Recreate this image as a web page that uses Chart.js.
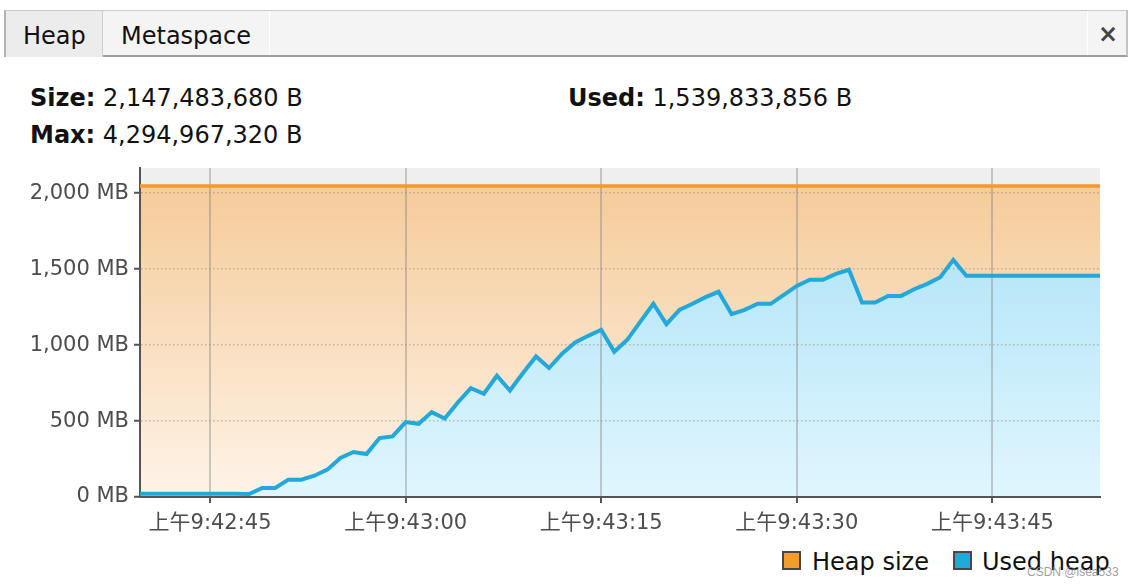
<!DOCTYPE html>
<html>
<head>
<meta charset="utf-8">
<script src="https://cdn.jsdelivr.net/npm/chart.js@4.4.1/dist/chart.umd.min.js"></script>
<style>
html,body{margin:0;padding:0;background:#fff;width:1138px;height:586px;overflow:hidden;
  font-family:'DejaVu Sans','Noto Sans CJK SC',sans-serif;color:#111;}
.abs{position:absolute;box-sizing:border-box;}
#tabbar{left:103px;top:10px;width:1025px;height:47px;background:#f4f4f4;border-top:1px solid #c9c9c9;border-bottom:2px solid #9e9e9e;border-right:2px solid #c4c4c4;}
#tabheap{left:4px;top:10px;width:99px;height:47px;background:#ececec;border-left:2px solid #b3b3b3;border-top:1px solid #c9c9c9;border-right:1px solid #cfcfcf;}
.sep{top:11px;width:1px;height:44px;background:#ffffff;}
.tabtxt{font-size:24px;line-height:28px;white-space:nowrap;}
.info{font-size:24px;line-height:28px;white-space:nowrap;}
.info b{font-weight:bold;}
#close{left:1098px;top:20px;font-size:24px;line-height:28px;color:#444;font-weight:bold;}
#chartwrap{left:0;top:150px;width:1138px;height:390px;}
.lgbox{width:19px;height:19px;border:2px solid #474747;}
.lgtxt{font-size:24px;line-height:28px;white-space:nowrap;color:#111;}
#wm{left:1027px;top:565px;font-family:'Liberation Sans',Arial,sans-serif;font-size:12px;line-height:14px;color:rgba(140,140,140,0.85);white-space:nowrap;}
</style>
</head>
<body>
<div id="tabbar" class="abs"></div>
<div id="tabheap" class="abs"></div>
<div class="abs sep" style="left:269px"></div>
<div class="abs sep" style="left:1087px"></div>
<div class="abs tabtxt" style="left:23px;top:22px">Heap</div>
<div class="abs tabtxt" style="left:121px;top:22px">Metaspace</div>
<div id="close" class="abs">×</div>

<div class="abs info" style="left:30px;top:84px"><b>Size:</b> 2,147,483,680 B</div>
<div class="abs info" style="left:30px;top:121px"><b>Max:</b> 4,294,967,320 B</div>
<div class="abs info" style="left:568px;top:84px"><b>Used:</b> 1,539,833,856 B</div>

<div id="chartwrap" class="abs"><canvas id="c" width="1138" height="390"></canvas></div>

<div class="abs lgbox" style="left:782px;top:551px;background:#f39c2c"></div>
<div class="abs lgtxt" style="left:812px;top:548px">Heap size</div>
<div class="abs lgbox" style="left:953px;top:551px;background:#1fa9dc"></div>
<div class="abs lgtxt" style="left:982px;top:548px">Used heap</div>
<div id="wm" class="abs">CSDN @isea533</div>

<script>
// ---- data (seconds after 9:42:00, MB) ----
const times = [39.63,41,42,43,44,45,46,47,48,49,50,51,52,53,54,55,56,57,58,59,
  60,61,62,63,64,65,66,67,68,69,70,71,72,73,74,75,76,77,78,79,
  80,81,82,83,84,85,86,87,88,89,90,91,92,93,94,95,96,97,98,99,
  100,101,102,103,104,105,106,107,108,109,110,111,112,113,114];
const usedHeap = [22,22,22,22,22,22,22,22,20,59,59,114,114,140,180,257,296,283,388,399,
  493,482,559,517,622,717,680,798,701,816,925,849,943,1017,1061,1101,956,1035,1155,1272,
  1138,1232,1272,1316,1351,1204,1232,1272,1272,1331,1390,1430,1430,1469,1496,1280,1280,1324,1324,1368,
  1403,1447,1561,1456,1456,1456,1456,1456,1456,1456,1456,1456,1456,1456,1456];
const heapSize = [2048,2048,2048,2048,2048,2048,2048,2048,2048,2048,2048,2048,2048,2048,2048,2048,2048,2048,2048,2048,
  2048,2048,2048,2048,2048,2048,2048,2048,2048,2048,2048,2048,2048,2048,2048,2048,2048,2048,2048,2048,
  2048,2048,2048,2048,2048,2048,2048,2048,2048,2048,2048,2048,2048,2048,2048,2048,2048,2048,2048,2048,
  2048,2048,2048,2048,2048,2048,2048,2048,2048,2048,2048,2048,2048,2048,2048];
const xTickValues = [45,60,75,90,105];
const xTickLabels = ['上午9:42:45','上午9:43:00','上午9:43:15','上午9:43:30','上午9:43:45'];
const yTickValues = [0,500,1000,1500,2000];
const yTickLabels = ['0 MB','500 MB','1,000 MB','1,500 MB','2,000 MB'];

const usedPts = times.map((t,i)=>({x:t,y:usedHeap[i]}));
const heapPts = times.map((t,i)=>({x:t,y:heapSize[i]}));

function grad(stops){
  return (ctx)=>{
    const chart = ctx.chart; const a = chart.chartArea;
    if(!a) return stops[0];
    const g = chart.ctx.createLinearGradient(0,a.top,0,a.bottom);
    g.addColorStop(0,stops[0]); g.addColorStop(1,stops[1]);
    return g;
  };
}

new Chart(document.getElementById('c'),{
  type:'line',
  data:{datasets:[
    {label:'Used heap',data:usedPts,order:1,borderColor:'#22a8da',borderWidth:4,
      fill:'origin',backgroundColor:grad(['#a6e0f6','#e0f6fe']),pointRadius:0,tension:0,borderJoinStyle:'miter'},
    {label:'Heap size',data:heapPts,order:2,borderColor:'#f29a2e',borderWidth:3.5,
      fill:'origin',backgroundColor:grad(['#f5c995','#fef3e7']),pointRadius:0,tension:0},
    {label:'bg',data:heapPts,order:3,borderColor:'rgba(0,0,0,0)',borderWidth:1,
      fill:'end',backgroundColor:'#efefef',pointRadius:0,tension:0}
  ]},
  options:{
    responsive:false,animation:false,
    layout:{padding:{top:18,right:38,left:0,bottom:0}},
    plugins:{legend:{display:false},tooltip:{enabled:false},filler:{drawTime:'beforeDraw'}},
    scales:{
      x:{type:'linear',min:39.63,max:113.25,
        afterFit:(s)=>{s.height=43;},
        afterBuildTicks:(s)=>{s.ticks=xTickValues.map(v=>({value:v}));},
        ticks:{callback:(v)=>{const i=xTickValues.indexOf(v);return i>=0?xTickLabels[i]:'';},
          color:'#4d4d4d',font:{family:"'DejaVu Sans','Noto Sans CJK SC'",size:21},padding:8,maxRotation:0,autoSkip:false},
        grid:{color:'rgba(130,130,130,0.4)',lineWidth:2,drawTicks:true,tickLength:6,tickColor:'#555',tickWidth:2},
        border:{display:true,color:'#555',width:2}
      },
      y:{type:'linear',min:0,max:2166,
        afterFit:(s)=>{s.width=140;},
        afterBuildTicks:(s)=>{s.ticks=yTickValues.map(v=>({value:v}));},
        ticks:{callback:(v)=>{const i=yTickValues.indexOf(v);return i>=0?yTickLabels[i]:'';},
          color:'#4d4d4d',font:{family:"'DejaVu Sans'",size:21},padding:5},
        grid:{color:'rgba(150,140,130,0.55)',lineWidth:1.5,drawTicks:true,tickLength:6,tickColor:'#555',tickWidth:2},
        border:{display:true,color:'#555',width:2,dash:[1.5,2.5]}
      }
    }
  }
});
</script>
</body>
</html>
